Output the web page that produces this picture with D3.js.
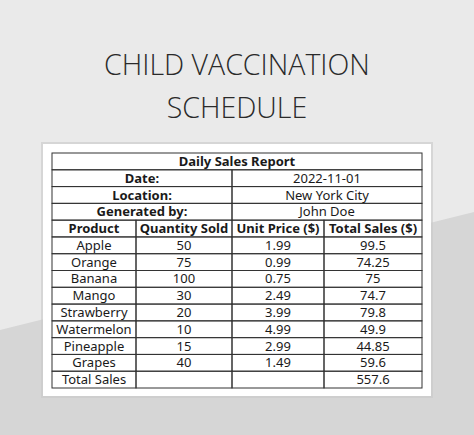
<!DOCTYPE html>
<html><head><meta charset="utf-8">
<script src="https://cdn.jsdelivr.net/npm/d3@7"></script>
<style>body{margin:0;background:#e9e9e9}svg{display:block}</style>
</head><body>
<script>
const titleLines = ["CHILD VACCINATION", "SCHEDULE"];
const reportTitle = "Daily Sales Report";
const metaLabels = ["Date:", "Location:", "Generated by:"];
const metaValues = ["2022-11-01", "New York City", "John Doe"];
const columns = ["Product", "Quantity Sold", "Unit Price ($)", "Total Sales ($)"];
const products = ["Apple","Orange","Banana","Mango","Strawberry","Watermelon","Pineapple","Grapes"];
const quantities = [50,75,100,30,20,10,15,40];
const prices = ["1.99","0.99","0.75","2.49","3.99","4.99","2.99","1.49"];
const totals = ["99.5","74.25","75","74.7","79.8","49.9","44.85","59.6"];
const totalLabel = "Total Sales";
const grandTotal = "557.6";

const W=474,H=435;
const svg=d3.select("body").append("svg").attr("width",W).attr("height",H);
svg.append("rect").attr("width",W).attr("height",H).attr("fill","#eaeaea");
svg.append("path").attr("d","M0,330 L474,212 L474,435 L0,435Z").attr("fill","#d6d6d6");

svg.selectAll("text.t").data(titleLines).join("text")
  .attr("x",237).attr("y",(d,i)=>75+i*43).attr("text-anchor","middle")
  .attr("font-family","Open Sans").attr("font-weight",300).attr("font-size",28.5)
  .attr("fill","#2a2a2a").text(d=>d);

svg.append("rect").attr("x",41).attr("y",142).attr("width",392).attr("height",256).attr("fill","#c8c8c8").attr("opacity",0.6);
svg.append("rect").attr("x",43).attr("y",144).attr("width",388).attr("height",252).attr("fill","#fff");

const nRows = 1+metaLabels.length+1+products.length+1;
const y=d3.scaleLinear().domain([0,nRows]).range([153,388]);
const colX=[52,136,232,324,422];
const rh=y(1)-y(0);
const g=svg.append("g");
function cell(x0,x1,r,txt,bold){
  g.append("rect").attr("x",x0).attr("y",y(r)).attr("width",x1-x0).attr("height",rh)
   .attr("fill","none").attr("stroke","#333").attr("stroke-width",1);
  if(txt!==""&&txt!=null) g.append("text").attr("x",(x0+x1)/2).attr("y",y(r)+rh/2+4.6)
   .attr("text-anchor","middle").attr("font-family","Noto Sans").attr("font-size",13)
   .attr("font-weight",bold?700:400).attr("fill","#1a1a1a").text(txt);
}
cell(colX[0],colX[4],0,reportTitle,true);
metaLabels.forEach((l,i)=>{cell(colX[0],colX[2],i+1,l,true);cell(colX[2],colX[4],i+1,metaValues[i],false);});
const hr=1+metaLabels.length;
columns.forEach((c,j)=>cell(colX[j],colX[j+1],hr,c,true));
products.forEach((p,i)=>{
  const r=hr+1+i;
  [p,quantities[i],prices[i],totals[i]].forEach((v,j)=>cell(colX[j],colX[j+1],r,String(v),false));
});
const tr=hr+1+products.length;
[totalLabel,"","",grandTotal].forEach((v,j)=>cell(colX[j],colX[j+1],tr,v,false));
</script>
</body></html>
